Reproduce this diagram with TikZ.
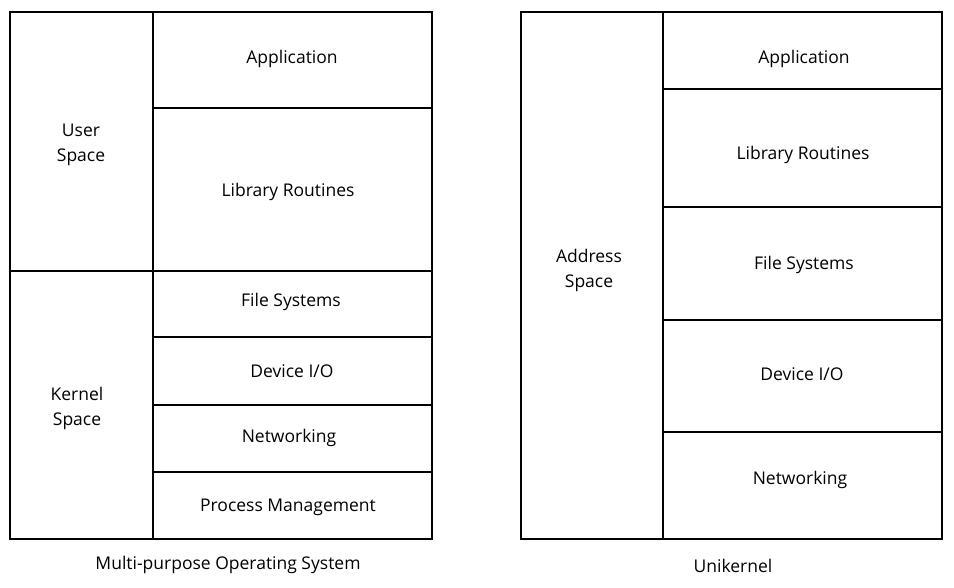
\documentclass[tikz,border=0pt]{standalone}
\usepackage{fontspec}
\setmainfont{Open Sans}
\begin{document}
\begin{tikzpicture}[x=1pt,y=-1pt,
  box/.style={draw=black,line width=1.1pt},
  lab/.style={font=\fontsize{17.5}{25}\selectfont,align=center,text=black}]
\useasboundingbox (0,0) rectangle (954,588);
% left
\draw[box] (10,12) rectangle (432,539);
\draw[box] (153,12) -- (153,539);
\draw[box] (10,271) -- (432,271);
\foreach \y in {108,337,405,472} \draw[box] (153,\y) -- (432,\y);
\node[lab] (us) at (81,145) {User\\Space};
\node[lab] (ks) at (77,408) {Kernel\\Space};
\node[lab] (a1) at (292,59) {Application};
\node[lab] (l1) at (288,192) {Library Routines};
\node[lab] (f1) at (291,302) {File Systems};
\node[lab] (d1) at (292,371) {Device I/O};
\node[lab] (n1) at (289,438) {Networking};
\node[lab] (p1) at (288,507) {Process Management};
\node[lab] (c1) at (228,565) {Multi-purpose Operating System};
% right
\draw[box] (521,12) rectangle (942,539);
\draw[box] (663,12) -- (663,539);
\foreach \y in {89,207,320,432} \draw[box] (663,\y) -- (942,\y);
\node[lab] (as) at (589,270) {Address\\Space};
\node[lab] (a2) at (804,59) {Application};
\node[lab] (l2) at (803,155) {Library Routines};
\node[lab] (f2) at (804,265) {File Systems};
\node[lab] (d2) at (802,374) {Device I/O};
\node[lab] (n2) at (800,480) {Networking};
\node[lab] (c2) at (733,566) {Unikernel};
\end{tikzpicture}
\end{document}
